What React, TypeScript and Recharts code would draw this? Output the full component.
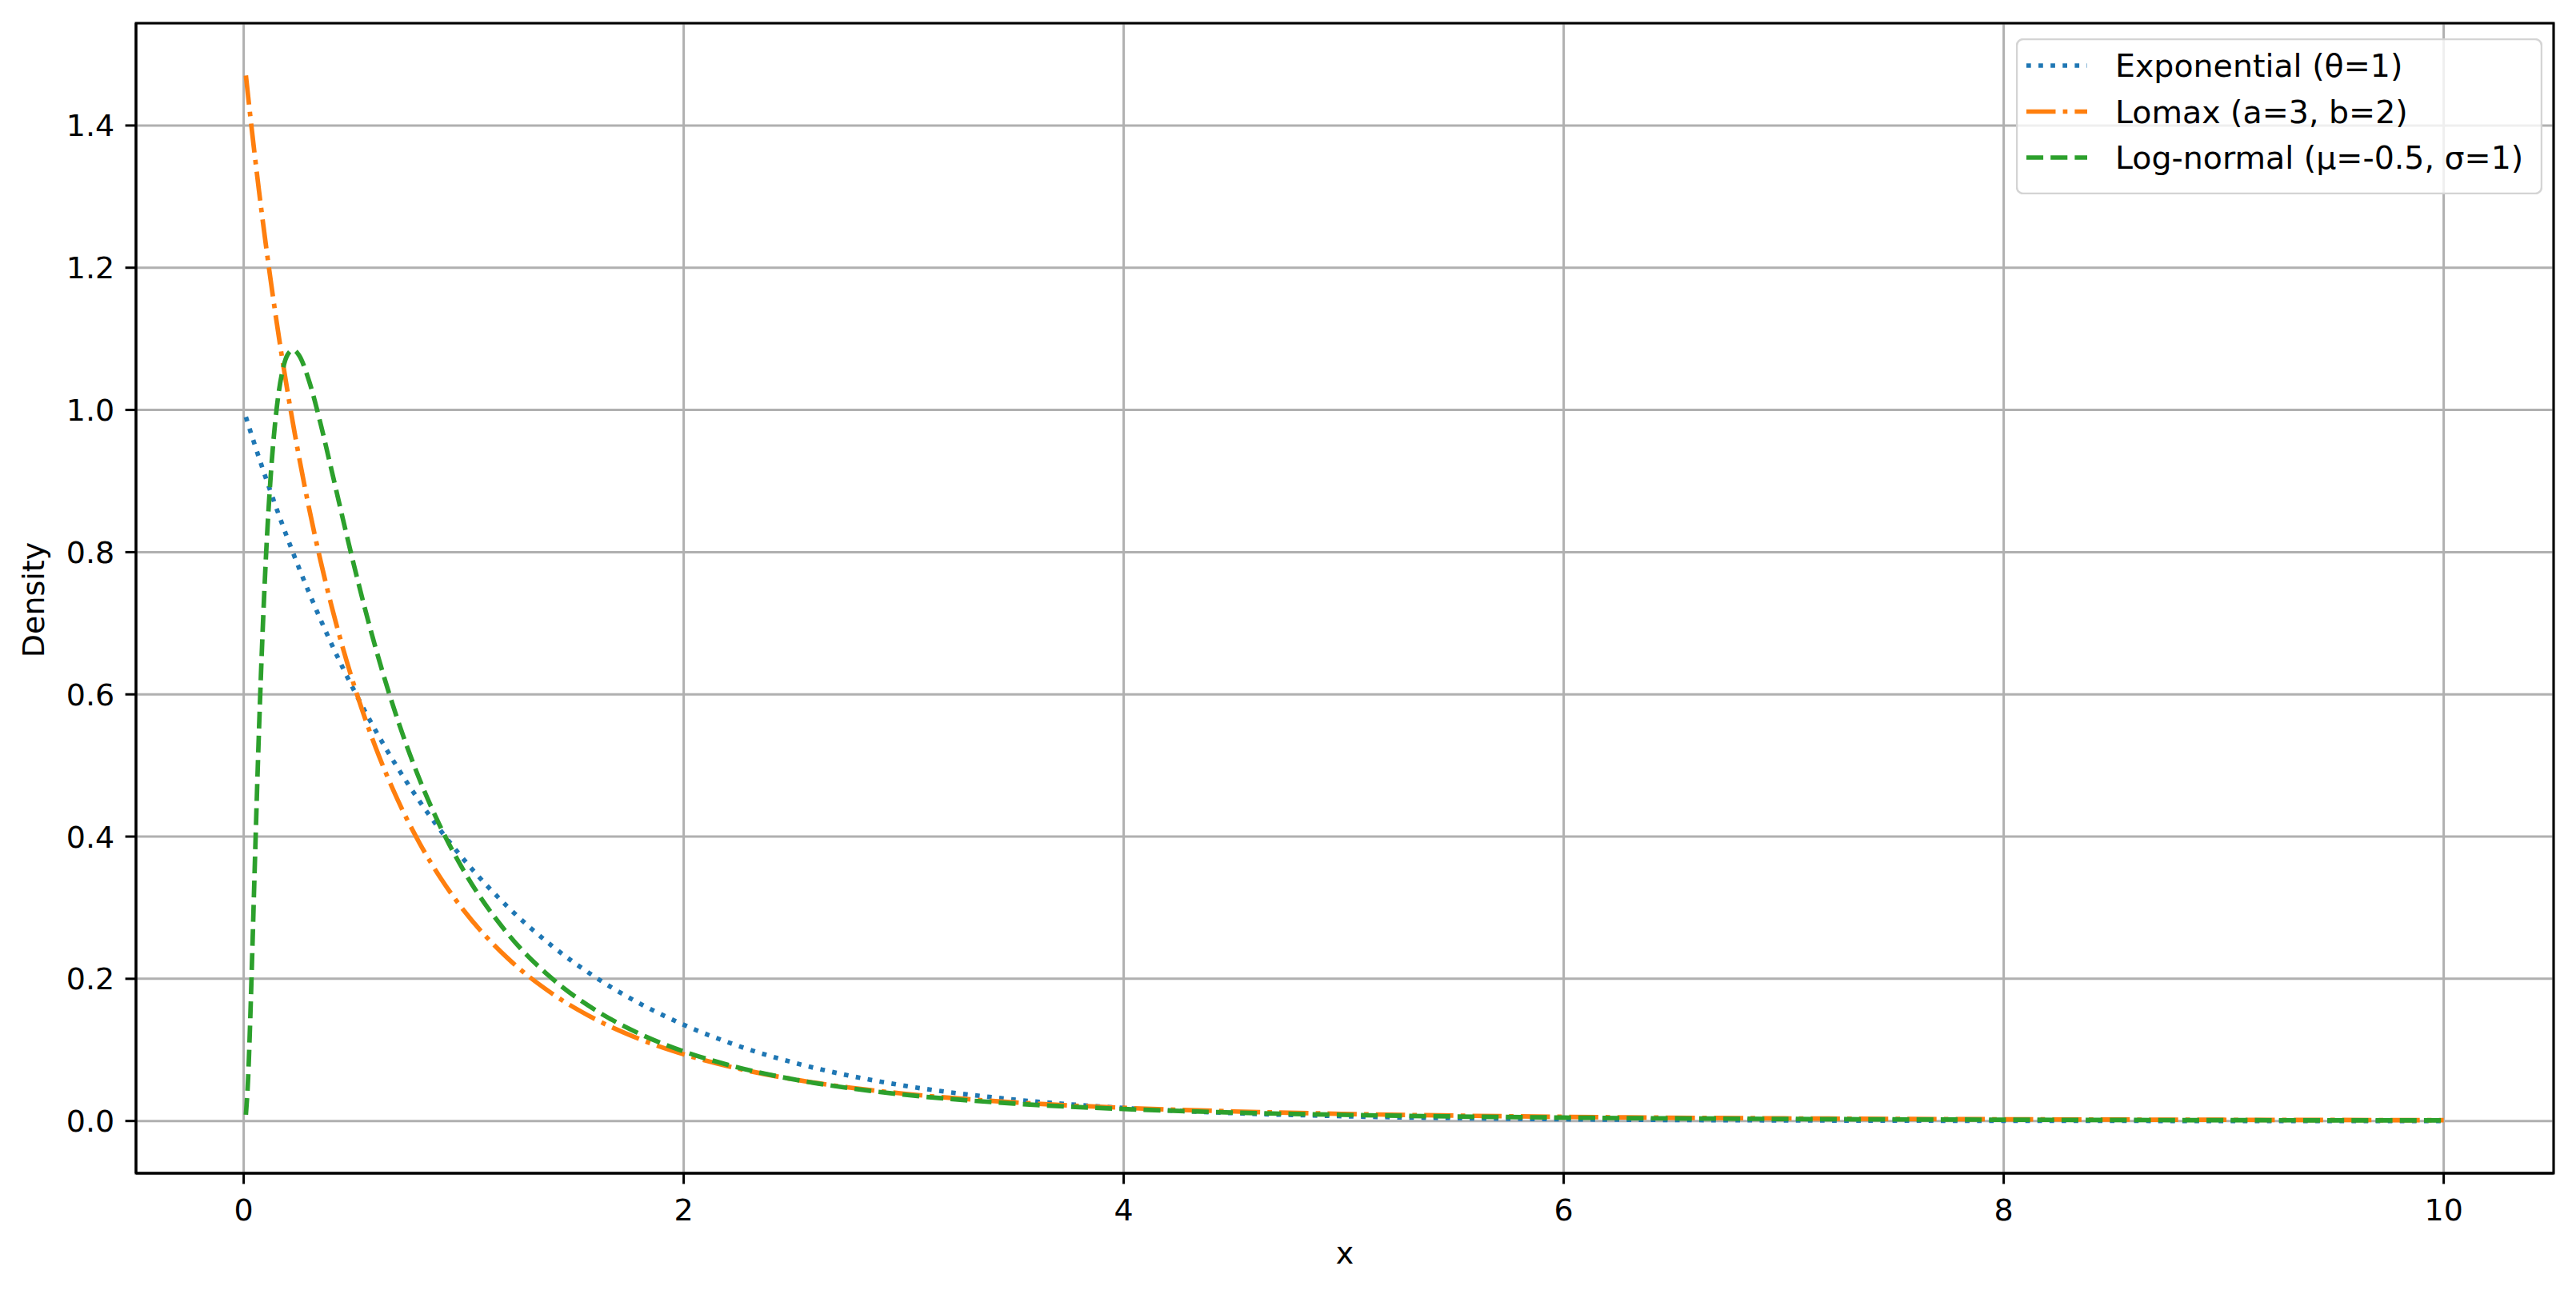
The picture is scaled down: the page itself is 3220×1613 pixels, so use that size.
import React from 'react';
import { LineChart, Line, XAxis, YAxis, CartesianGrid, Legend, ReferenceArea, Label } from 'recharts';

const X_VALUES = [0.01, 0.02, 0.03, 0.04, 0.05, 0.07, 0.1, 0.125, 0.15, 0.175, 0.2, 0.225, 0.25, 0.3, 0.35, 0.4, 0.45, 0.5, 0.6, 0.7, 0.8, 0.9, 1.0, 1.2, 1.4, 1.6, 1.8, 2.0, 2.25, 2.5, 2.75, 3.0, 3.5, 4, 4.5, 5, 6, 7, 8, 9, 10];
const EXPONENTIAL = [0.99005, 0.9802, 0.97045, 0.96079, 0.95123, 0.93239, 0.90484, 0.8825, 0.86071, 0.83946, 0.81873, 0.79852, 0.7788, 0.74082, 0.70469, 0.67032, 0.63763, 0.60653, 0.54881, 0.49659, 0.44933, 0.40657, 0.36788, 0.30119, 0.2466, 0.2019, 0.1653, 0.13534, 0.1054, 0.08208, 0.06393, 0.04979, 0.0302, 0.01832, 0.01111, 0.00674, 0.00248, 0.00091, 0.00034, 0.00012, 0.00005];
const LOMAX = [1.47037, 1.44147, 1.41328, 1.38577, 1.35893, 1.30716, 1.23405, 1.177, 1.1232, 1.07244, 1.02452, 0.97924, 0.93643, 0.85763, 0.78694, 0.72338, 0.66611, 0.6144, 0.52519, 0.4516, 0.39046, 0.33933, 0.2963, 0.22888, 0.1796, 0.14289, 0.1151, 0.09375, 0.07356, 0.05853, 0.04715, 0.0384, 0.02623, 0.01852, 0.01344, 0.00999, 0.00586, 0.00366, 0.0024, 0.00164, 0.00116];
const LOGNORMAL = [0.00874, 0.05914, 0.14484, 0.24753, 0.35432, 0.55386, 0.78583, 0.91683, 1.00222, 1.05289, 1.07796, 1.08441, 1.07745, 1.03792, 0.97993, 0.91457, 0.84791, 0.78314, 0.66486, 0.56409, 0.47993, 0.41006, 0.35207, 0.26341, 0.20084, 0.15577, 0.12266, 0.09789, 0.07508, 0.05853, 0.04628, 0.03706, 0.02453, 0.01684, 0.0119, 0.00862, 0.00481, 0.00286, 0.00179, 0.00117, 0.00079];

const X_TICKS = [0, 2, 4, 6, 8, 10];
const Y_TICKS = [0, 0.2, 0.4, 0.6, 0.8, 1.0, 1.2, 1.4];
const SERIES_NAMES = ['Exponential (θ=1)', 'Lomax (a=3, b=2)', 'Log-normal (μ=-0.5, σ=1)'];
const X_LABEL = 'x';
const Y_LABEL = 'Density';

const X_MIN = -0.4895;
const X_MAX = 10.4995;
const Y_MIN = -0.07347;
const Y_MAX = 1.54389;

const data = X_VALUES.map((x, i) => ({ x, exp: EXPONENTIAL[i], lomax: LOMAX[i], lognormal: LOGNORMAL[i] }));

const FONT = 'DejaVu Sans';
const FS = 38;
const LEGEND_FS = 39.5;
const LW = 5.7;
const SERIES = [
  { key: 'exp', name: SERIES_NAMES[0], color: '#1f77b4', dash: '5.7 9.4' },
  { key: 'lomax', name: SERIES_NAMES[1], color: '#ff7f0e', dash: '36.5 9.1 5.7 9.1' },
  { key: 'lognormal', name: SERIES_NAMES[2], color: '#2ca02c', dash: '21.1 9.1' },
];

const renderLegend = () => (
  <svg width={658} height={195} style={{ display: 'block' }}>
    <rect x={1} y={1} width={656} height={193} rx={8} ry={8} fill="rgba(255,255,255,0.8)" stroke="#d4d4d4" strokeWidth={2.5} />
    {SERIES.map((s, i) => {
      const cy = 34 + i * 57.5;
      return (
        <g key={s.key}>
          <line x1={13} x2={89} y1={cy} y2={cy} stroke={s.color} strokeWidth={LW} strokeDasharray={s.dash} />
          <text x={124} y={cy + 14} fontFamily={FONT} fontSize={LEGEND_FS} fill="#000">{s.name}</text>
        </g>
      );
    })}
  </svg>
);

export default function App() {
  return (
    <div style={{ position: 'absolute', left: 0, top: 0, width: 3220, height: 1613, background: '#fff', fontFamily: FONT }}>
      <LineChart width={3220} height={1613} data={data} margin={{ top: 29, right: 28, bottom: 0, left: 0 }}>
        <CartesianGrid stroke="#b0b0b0" strokeWidth={3} />
        <XAxis
          dataKey="x"
          type="number"
          domain={[X_MIN, X_MAX]}
          ticks={X_TICKS}
          allowDataOverflow
          height={146}
          tickSize={13.4}
          tickMargin={18.6}
          axisLine={{ stroke: '#000', strokeWidth: 3 }}
          tickLine={{ stroke: '#000', strokeWidth: 3 }}
          tick={{ fill: '#000', fontSize: FS, fontFamily: FONT }}
        >
          <Label
            content={() => (
              <text x={1681} y={1580} textAnchor="middle" fontFamily={FONT} fontSize={FS} fill="#000">{X_LABEL}</text>
            )}
          />
        </XAxis>
        <YAxis
          type="number"
          domain={[Y_MIN, Y_MAX]}
          ticks={Y_TICKS}
          allowDataOverflow
          width={170}
          tickSize={13.4}
          tickMargin={13.4}
          tickFormatter={(v: number) => v.toFixed(1)}
          axisLine={{ stroke: '#000', strokeWidth: 3 }}
          tickLine={{ stroke: '#000', strokeWidth: 3 }}
          tick={{ fill: '#000', fontSize: FS, fontFamily: FONT }}
        >
          <Label
            content={() => (
              <text x={55} y={750} transform="rotate(-90, 55, 750)" textAnchor="middle" fontFamily={FONT} fontSize={FS} fill="#000">{Y_LABEL}</text>
            )}
          />
        </YAxis>
        <ReferenceArea x1={X_MIN} x2={X_MAX} y1={Y_MIN} y2={Y_MAX} fill="none" stroke="#000" strokeWidth={3} ifOverflow="visible" />
        {SERIES.map((s) => (
          <Line
            key={s.key}
            dataKey={s.key}
            name={s.name}
            type="monotone"
            stroke={s.color}
            strokeWidth={LW}
            strokeDasharray={s.dash}
            dot={false}
            activeDot={false}
            isAnimationActive={false}
          />
        ))}
        <Legend
          layout="vertical"
          align="center"
          verticalAlign="middle"
          content={renderLegend}
          wrapperStyle={{ left: 2520, top: 48, width: 658, height: 195 }}
        />
      </LineChart>
    </div>
  );
}
